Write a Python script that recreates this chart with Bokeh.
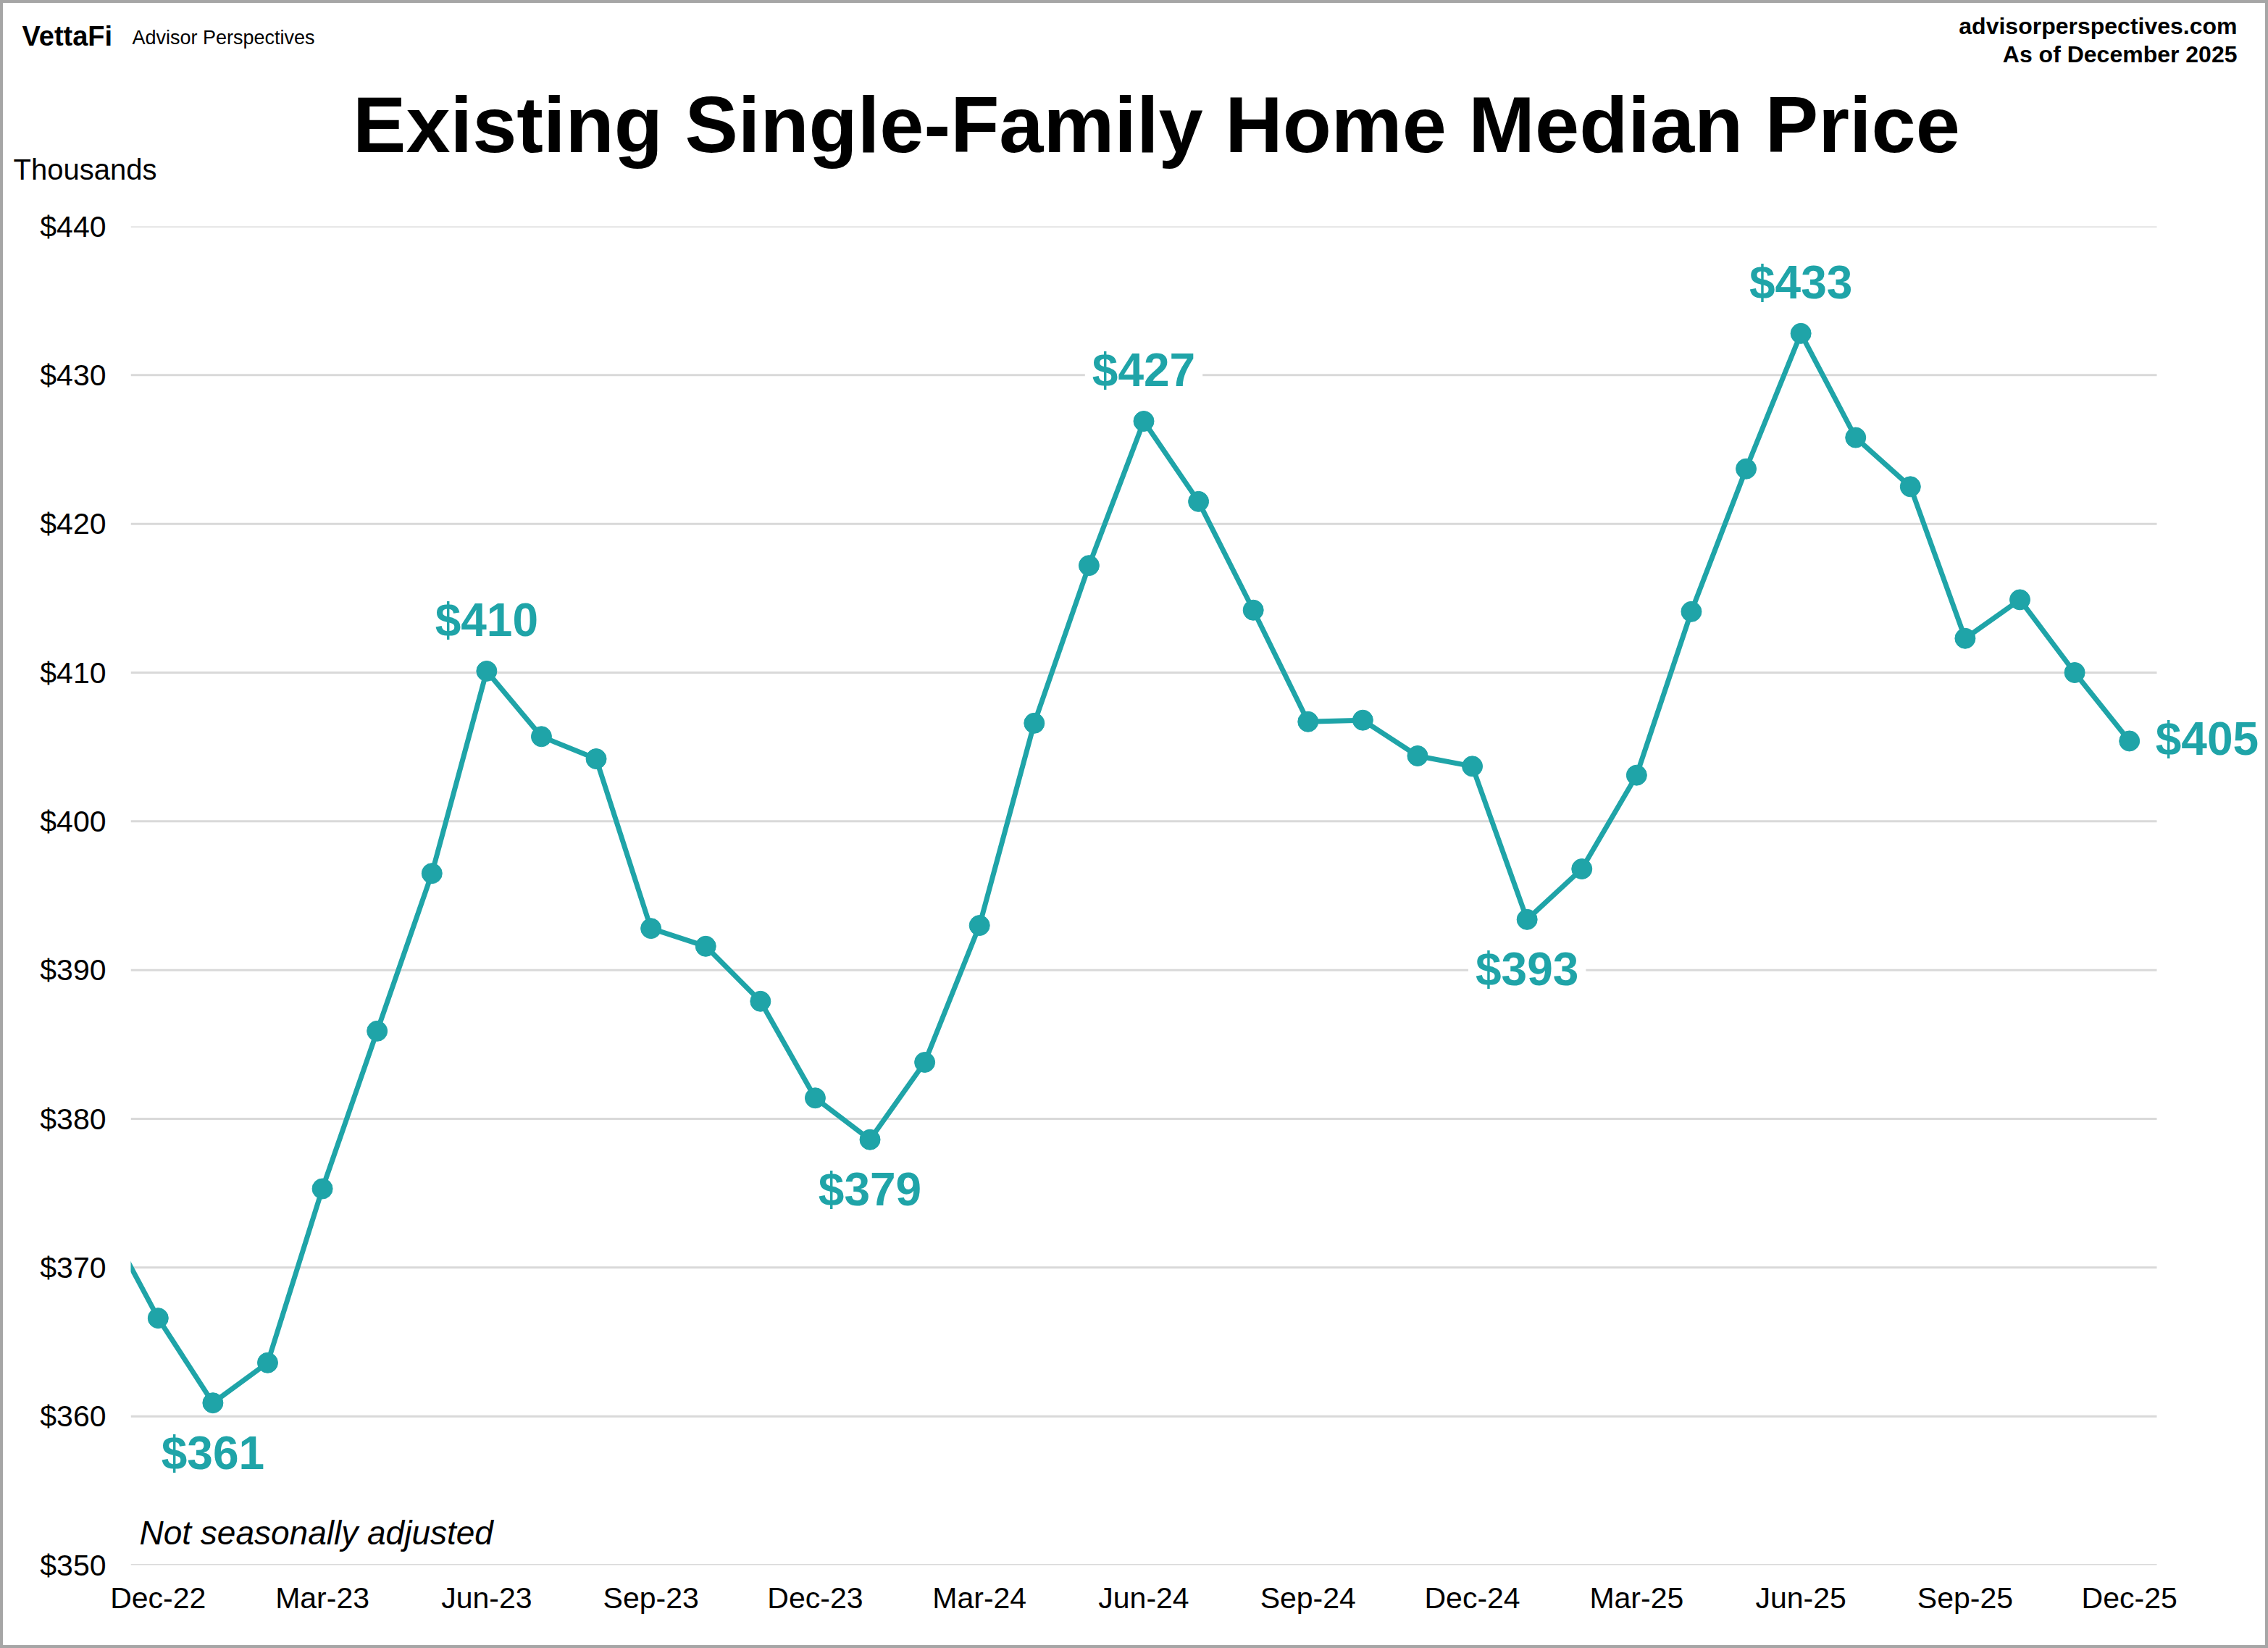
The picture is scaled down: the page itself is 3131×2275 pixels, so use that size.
from bokeh.plotting import figure
from bokeh.layouts import column, row
from bokeh.models import ColumnDataSource, Label, FixedTicker, Range1d
from bokeh.embed import file_html
from bokeh.resources import INLINE

# ---------------- data ----------------
months = ["Nov-22", "Dec-22",
          "Jan-23", "Feb-23", "Mar-23", "Apr-23", "May-23", "Jun-23",
          "Jul-23", "Aug-23", "Sep-23", "Oct-23", "Nov-23", "Dec-23",
          "Jan-24", "Feb-24", "Mar-24", "Apr-24", "May-24", "Jun-24",
          "Jul-24", "Aug-24", "Sep-24", "Oct-24", "Nov-24", "Dec-24",
          "Jan-25", "Feb-25", "Mar-25", "Apr-25", "May-25", "Jun-25",
          "Jul-25", "Aug-25", "Sep-25", "Oct-25", "Nov-25", "Dec-25"]
prices = [373.5, 366.6,
          360.9, 363.6, 375.3, 385.9, 396.5, 410.1,
          405.7, 404.2, 392.8, 391.6, 387.9, 381.4,
          378.6, 383.8, 393.0, 406.6, 417.2, 426.9,
          421.5, 414.2, 406.7, 406.8, 404.4, 403.7,
          393.4, 396.8, 403.1, 414.1, 423.7, 432.8,
          425.8, 422.5, 412.3, 414.9, 410.0, 405.4]
tick_months = ["Dec-22", "Mar-23", "Jun-23", "Sep-23", "Dec-23", "Mar-24", "Jun-24",
               "Sep-24", "Dec-24", "Mar-25", "Jun-25", "Sep-25", "Dec-25"]
y_ticks = [350, 360, 370, 380, 390, 400, 410, 420, 430, 440]
callout_months = ["Jan-23", "Jun-23", "Jan-24", "Jun-24", "Jan-25", "Jun-25", "Dec-25"]
callout_sides = ["below", "above", "below", "above", "below", "above", "right"]

title_text = "Existing Single-Family Home Median Price"
unit_text = "Thousands"
note_text = "Not seasonally adjusted"
brand_text = "VettaFi"
brand2_text = "Advisor Perspectives"
site_text = "advisorperspectives.com"
asof_text = "As of December 2025"

# ---------------- styling / layout ----------------
TEAL = "#1FA4A8"
GRID = "#D9D9D9"
FONT = "Liberation Sans"
BORDER = 4
CW = 3131 - 2 * BORDER          # content width
HEAD_BOTTOM = 270               # page y where the main chart starts
H_HEAD = HEAD_BOTTOM - BORDER
H_MAIN = 2275 - BORDER - HEAD_BOTTOM
BASE_K = 0.4                    # svg baseline compensation (fraction of font size)

# frame edges in page pixels
FL, FR = 180, BORDER + CW
FT, FB = 312, 2160
X0, XG1 = -0.5, 36.5            # visible month span (gridline extent)
X1 = X0 + (FR - FL) * (XG1 - X0) / (2977 - FL)
Y0, Y1 = 350, 440

def xd(sx):
    return X0 + (sx - FL) * (X1 - X0) / (FR - FL)
def yd(sy):
    return Y0 + (FB - sy) * (Y1 - Y0) / (FB - FT)

# ---------------- header figure ----------------
h = figure(width=CW, height=H_HEAD, x_range=Range1d(BORDER, BORDER + CW),
           y_range=Range1d(HEAD_BOTTOM, BORDER),
           output_backend="svg", toolbar_location=None,
           x_axis_location=None, y_axis_location=None,
           min_border=0, min_border_left=0, min_border_right=0,
           min_border_top=0, min_border_bottom=0)
h.outline_line_color = None
h.xgrid.visible = False
h.ygrid.visible = False
h.background_fill_color = "white"
h.border_fill_color = "white"

def head_text(text, sx, sy, size, style="normal", align="left"):
    h.add_layout(Label(x=sx, y=sy - BASE_K * size, text=text, text_font=FONT,
                       text_font_size=f"{size}px", text_font_style=style,
                       text_align=align, text_baseline="alphabetic", text_color="black"))

head_text(title_text, 1596, 215, 110, "bold", "center")
head_text(brand_text, 30, 65, 38, "bold")
head_text(brand2_text, 182, 62, 27)
head_text(site_text, 3088, 48, 32, "bold", "right")
head_text(asof_text, 3088, 87, 32, "bold", "right")
head_text(unit_text, 18, 249, 40)

# ---------------- main figure ----------------
idx = {m: i - 1 for i, m in enumerate(months)}  # Dec-22 -> 0
xs = [idx[m] for m in months]
src = ColumnDataSource(dict(x=xs, y=prices))

p = figure(width=CW, height=H_MAIN, x_range=Range1d(X0, X1), y_range=Range1d(Y0, Y1),
           output_backend="svg", toolbar_location=None,
           min_border_left=FL - BORDER, min_border_right=0,
           min_border_top=FT - HEAD_BOTTOM, min_border_bottom=(HEAD_BOTTOM + H_MAIN) - FB)
p.background_fill_color = "white"
p.border_fill_color = "white"
p.outline_line_color = None
p.xgrid.visible = False
p.ygrid.visible = False

# horizontal gridlines at the y ticks, over the month span only
p.segment(x0=[X0] * len(y_ticks), x1=[XG1] * len(y_ticks), y0=y_ticks, y1=y_ticks,
          line_color=GRID, line_width=3, level="underlay")

p.xaxis.ticker = FixedTicker(ticks=[idx[m] for m in tick_months])
p.xaxis.major_label_overrides = {idx[m]: m for m in tick_months}
p.yaxis.ticker = FixedTicker(ticks=y_ticks)
p.yaxis.major_label_overrides = {v: f"${v}" for v in y_ticks}
for ax in (p.xaxis[0], p.yaxis[0]):
    ax.axis_line_color = None
    ax.major_tick_line_color = None
    ax.minor_tick_line_color = None
    ax.major_tick_out = 0
    ax.major_tick_in = 0
    ax.major_label_text_font = FONT
    ax.major_label_text_font_size = "41px"
    ax.major_label_text_color = "black"
p.xaxis.major_label_standoff = 22
p.yaxis.major_label_standoff = 34

# callouts (drawn under the series, over the gridlines)
for m, side in zip(callout_months, callout_sides):
    v = prices[months.index(m)]
    kw = dict(x=idx[m], y=v, text=f"${round(v)}", text_font=FONT, text_font_style="bold",
              text_font_size="64px", text_color=TEAL,
              background_fill_color="white", padding=10, level="underlay")
    if side == "above":
        kw.update(text_align="center", text_baseline="alphabetic", y_offset=70)
    elif side == "below":
        kw.update(text_align="center", text_baseline="alphabetic", y_offset=-69)
    else:
        kw.update(text_align="left", text_baseline="alphabetic", x_offset=26, y_offset=3)
    p.add_layout(Label(**kw))

p.add_layout(Label(x=xd(192), y=yd(2134 - BASE_K * 46), text=note_text, text_font=FONT,
                   text_font_size="46px", text_font_style="italic",
                   text_align="left", text_baseline="alphabetic", text_color="black"))

# series
p.line("x", "y", source=src, line_color=TEAL, line_width=7)
p.scatter("x", "y", source=src, size=28, fill_color=TEAL, line_color=TEAL)

layout = column(row(h, spacing=0), p, spacing=0,
                styles={"border": f"{BORDER}px solid #A6A6A6", "background-color": "white"})

open("out.html", "w").write(file_html(layout, INLINE))
